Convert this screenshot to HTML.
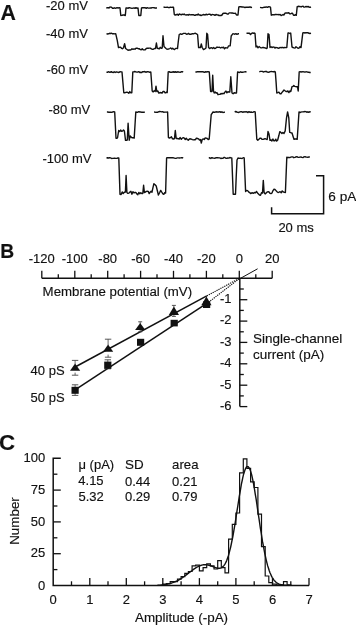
<!DOCTYPE html>
<html><head><meta charset="utf-8"><style>
html,body{margin:0;padding:0;background:#fff;}
body{width:356px;height:626px;overflow:hidden;}
svg{display:block;}
svg text{font-family:'Liberation Sans', Arial, Helvetica, sans-serif;fill:#111;stroke:#111;stroke-width:0.15px;}
</style></head><body>
<svg width="356" height="626" viewBox="0 0 356 626">
<rect width="356" height="626" fill="#fff"/>
<polyline points="106.3,8.0 107.2,7.8 108.1,7.7 109.0,8.0 110.0,7.0 110.8,7.1 111.5,7.2 112.5,8.2 113.4,8.3 114.4,7.8 115.3,8.2 116.2,8.0 117.2,7.7 118.1,8.1 119.1,7.6 120.0,8.0 120.8,15.5 121.9,15.4 123.0,15.0 124.2,15.0 125.3,15.5 126.0,8.0 127.0,7.9 128.0,8.3 129.0,7.7 130.0,7.8 131.0,8.1 132.0,8.4 133.0,8.1 134.0,7.9 135.0,8.4 136.0,7.6 137.0,8.3 138.0,8.0 138.8,15.5 139.8,15.5 140.8,15.5 141.5,8.0 142.5,7.8 143.4,7.7 144.4,7.7 145.4,7.8 146.3,8.3 147.3,7.7 148.3,8.1 149.2,8.1 150.2,7.9 151.2,8.0 152.2,7.6 153.1,7.6 154.1,7.7 155.1,8.2 156.0,7.9 157.0,8.0" fill="none" stroke="#111" stroke-width="1.4" stroke-linejoin="round"/>
<polyline points="163.5,7.3 164.5,7.1 165.5,7.4 166.5,7.3 167.5,7.1 168.5,7.6 169.5,7.5 170.5,7.1 171.5,7.4 172.5,7.3 173.5,7.3 174.3,14.5 175.3,15.0 176.3,14.8 177.3,14.2 178.3,15.2 179.3,14.0 180.3,14.4 181.3,14.9 182.2,14.1 183.2,14.6 184.2,14.0 185.2,14.9 186.2,15.0 187.2,14.7 188.2,15.2 189.2,14.4 190.2,14.9 191.2,14.8 192.2,14.8 193.2,14.6 194.2,15.2 195.2,15.3 196.2,14.7 197.2,15.0 198.2,14.1 199.1,15.0 200.1,15.0 201.1,15.5 202.1,15.2 203.1,14.5 204.1,14.7 205.1,15.1 206.1,14.2 207.1,14.8 208.1,14.4 209.1,14.3 210.1,14.3 211.1,15.3 212.1,14.4 213.1,14.6 214.1,14.8 215.0,15.4 216.0,14.4 217.0,14.9 218.0,15.0 219.0,15.5 220.0,15.4 221.0,15.5 222.0,15.0 223.0,13.5 224.0,13.2 225.1,13.3 226.1,13.3 227.2,14.0 228.2,14.1 229.2,12.9 230.3,12.9 231.3,13.0 232.4,13.0 233.4,13.3 234.5,13.4 235.5,13.3 236.5,15.0 237.2,15.0 238.0,15.0 238.8,7.0 239.8,6.8 240.8,6.6 241.8,7.0 242.9,6.9 243.9,7.1 244.9,7.5 245.9,7.3 246.9,7.1 247.9,7.2 249.0,7.3 250.0,6.8 251.0,7.5 252.0,7.2" fill="none" stroke="#111" stroke-width="1.4" stroke-linejoin="round"/>
<polyline points="260.0,7.4 261.1,7.6 262.1,7.7 263.1,7.6 264.2,7.2 265.2,7.2 266.3,6.9 267.4,7.4 268.4,6.8 269.4,6.8 270.5,7.2 271.3,15.2 272.3,14.8 273.3,14.7 274.2,14.9 275.2,14.5 276.2,14.4 277.2,14.6 278.1,14.5 279.1,14.9 280.1,14.4 281.1,15.6 282.0,15.2 283.0,14.5 284.0,15.0 285.0,13.2 285.9,12.9 286.9,13.0 287.8,13.0 288.8,12.7 289.7,13.7 290.6,13.9 291.6,13.2 292.5,13.2 293.5,15.3 294.4,15.3 295.4,14.7 296.3,15.3 297.2,6.6 298.2,6.3 299.2,6.5 300.2,6.5 301.1,7.0 302.1,6.4 303.1,6.3 304.1,7.2 305.1,6.9 306.1,6.5 307.1,6.9 308.0,6.5 309.0,7.0 310.0,7.4 311.0,7.0" fill="none" stroke="#111" stroke-width="1.4" stroke-linejoin="round"/>
<polyline points="106.5,33.6 107.5,34.0 108.5,33.8 109.6,33.3 110.6,33.5 111.6,33.2 112.6,33.9 113.7,33.6 114.7,33.9 115.7,33.6 116.5,37.2 117.3,40.7 118.5,47.6 119.5,47.3 120.5,47.1 121.5,48.3 122.5,48.7 123.5,47.8 124.6,43.7 125.6,48.5 127.0,49.5 128.0,50.2 129.0,50.0 130.0,50.0 131.0,49.8 132.0,48.8 133.0,49.3 134.0,48.9 135.0,49.2 136.0,48.2 137.1,48.2 138.1,48.7 139.1,48.6 140.1,49.4 141.2,49.9 142.2,48.8 143.2,49.8 144.2,49.9 145.2,49.8 146.3,48.5 147.3,48.2 148.3,48.2 149.3,48.1 150.4,48.1 151.4,48.9 152.4,49.4 153.4,49.3 154.5,48.5 155.5,48.5 156.4,43.0 157.3,48.3 158.3,48.5 159.3,48.8 160.2,47.3 161.2,48.4 162.2,48.0 163.0,35.8 164.0,46.5 165.0,47.5 166.0,48.5 167.0,49.3 167.9,49.1 168.9,49.0 169.8,48.5 170.8,47.9 171.8,49.1 172.7,48.2 173.7,49.2 174.6,49.5 175.6,48.4 176.5,48.4 177.5,48.6 178.3,41.5 179.2,34.5 180.5,33.8 181.5,34.3 182.5,34.0 183.5,33.4 184.5,33.4 185.5,33.4 186.5,34.2 187.5,34.1 188.5,33.4 189.5,34.2 190.5,34.3 191.5,34.0 192.5,33.6 193.5,33.9 194.5,33.4 195.5,33.3 196.5,33.8 197.6,34.8 198.6,47.6 199.6,47.5 200.5,47.5 201.3,44.0 202.2,47.5 203.5,49.6 204.8,48.8 206.0,48.0 206.8,33.3 207.6,34.5 208.6,47.6 209.6,48.6 210.6,47.9 211.6,47.7 212.6,48.6 213.6,47.6 214.6,48.5 215.6,48.4 216.6,47.2 217.6,47.3 218.5,47.4 219.5,47.3 220.5,48.0 221.5,47.4 222.5,47.7 223.5,47.2 224.5,48.8 225.5,47.7 226.5,47.9 227.5,48.0 228.5,46.0 229.3,45.9 230.2,45.7 231.2,36.0 232.0,34.9 232.8,33.8 233.8,33.9 234.9,34.2 235.9,33.7 236.9,34.3 238.0,33.8 239.0,33.8" fill="none" stroke="#111" stroke-width="1.4" stroke-linejoin="round"/>
<polyline points="246.5,33.3 247.5,33.3 248.5,33.3 249.5,33.3 250.5,34.6 251.5,33.5 252.4,32.9 253.2,33.3 254.1,33.0 255.0,33.3 256.0,47.0 257.0,46.1 258.0,47.8 259.1,46.6 260.1,47.3 261.1,47.9 262.1,47.7 263.1,47.3 264.1,47.8 265.2,47.9 266.2,48.5 267.2,48.0 268.0,33.8 269.0,34.5 270.0,47.5 271.0,46.7 272.0,47.6 273.0,47.0 274.0,47.1 274.9,48.0 275.9,47.5 276.9,47.6 277.9,48.0 278.9,48.3 279.9,47.4 280.9,47.7 281.9,47.5 282.8,47.5 283.8,47.9 284.8,47.4 285.8,47.6 286.8,47.5 288.0,33.0 288.9,33.0 289.8,33.5 290.7,33.0 292.0,47.0 293.0,47.5 294.0,47.9 295.0,48.1 296.0,46.8 297.0,47.5 298.0,48.3 299.0,48.1 300.0,46.8 301.0,47.6 301.9,40.3 302.8,33.0 303.8,32.6 304.9,33.0 305.9,32.6 306.9,32.8 307.9,32.7 308.9,33.3 310.0,33.5 311.0,33.2" fill="none" stroke="#111" stroke-width="1.4" stroke-linejoin="round"/>
<polyline points="106.5,72.0 107.5,72.4 108.4,71.7 109.4,72.2 110.4,72.2 111.3,71.6 112.3,72.4 113.3,72.5 114.2,71.7 115.2,72.5 116.2,71.9 117.2,72.0 118.1,72.5 119.1,72.3 120.1,71.7 121.0,71.9 122.0,72.0 122.9,82.4 123.8,92.8 124.8,92.8 125.8,92.4 126.8,92.1 127.8,92.4 128.8,93.3 129.8,91.6 130.8,92.9 131.8,92.8 132.8,72.0 133.8,71.9 134.8,71.5 135.8,71.8 136.8,72.1 137.8,72.0 138.8,71.6 139.8,72.5 140.8,72.3 141.8,72.5 142.8,71.6 143.8,71.8 144.8,71.5 145.8,72.3 146.8,71.8 147.8,71.6 148.8,71.9 149.8,72.4 150.8,72.0 152.2,91.0 153.2,91.9 154.2,90.8 155.2,91.5 156.0,86.2 156.8,91.5 157.9,91.0 158.9,93.2 160.0,92.5 161.0,92.7 162.1,93.0 163.1,91.5 164.1,91.4 165.1,93.0 166.2,92.3 167.2,92.5 168.2,72.0 169.2,71.6 170.2,72.4 171.2,72.1 172.2,72.3 173.2,71.6 174.2,72.4 175.2,71.6 176.2,72.4 177.2,72.0 178.2,71.8 179.2,72.1 180.2,72.4 181.2,71.8 182.2,71.6 183.2,72.0" fill="none" stroke="#111" stroke-width="1.4" stroke-linejoin="round"/>
<polyline points="195.4,72.0 196.4,72.0 197.4,71.7 198.4,71.6 199.4,71.7 200.4,71.6 201.4,71.7 202.4,71.8 203.3,71.8 204.3,72.3 205.3,71.8 206.3,72.0 207.3,71.7 208.3,71.8 209.3,72.0 210.6,91.5 212.0,91.5 212.7,75.3 213.5,91.0 214.2,93.0 215.2,92.1 216.1,93.0 217.1,92.7 218.0,94.7 219.0,94.4 220.0,94.4 221.0,93.4 222.0,94.0 223.0,93.3 224.0,93.7 225.0,92.0 226.0,91.1 226.9,92.8 227.9,91.8 228.8,92.0 229.8,92.0 230.8,76.7 232.0,93.0 233.1,93.8 234.2,92.7 235.4,93.0 236.5,93.0 237.6,72.0 238.6,72.2 239.6,72.5 240.6,71.8 241.6,72.3 242.5,72.2 243.5,72.1 244.5,71.9 245.5,71.8 246.5,72.0" fill="none" stroke="#111" stroke-width="1.4" stroke-linejoin="round"/>
<polyline points="259.3,71.8 260.3,71.4 261.3,71.4 262.3,71.4 263.3,72.0 264.3,71.6 265.3,71.5 266.3,71.4 267.3,72.1 268.3,72.2 269.3,72.0 270.3,71.6 271.3,71.5 272.3,71.6 273.3,71.8 274.3,71.5 275.3,71.8 276.1,82.4 276.8,93.0 277.8,92.7 278.9,92.2 279.9,93.7 281.0,93.7 282.0,92.4 283.0,91.2 284.0,90.0 285.0,90.8 286.0,91.5 287.0,91.6 287.9,90.9 288.9,92.6 289.8,91.0 290.8,91.5 292.0,86.7 292.9,86.4 293.8,85.5 294.8,86.4 295.7,86.6 296.6,86.7 297.5,86.7 298.2,91.0 299.2,72.0 300.2,71.7 301.1,72.1 302.1,71.6 303.0,71.9 304.0,71.8 304.9,72.1 305.9,71.8 306.9,71.9 307.8,72.2 308.8,72.1 309.7,72.5 310.7,72.5" fill="none" stroke="#111" stroke-width="1.4" stroke-linejoin="round"/>
<polyline points="106.9,112.0 107.9,112.0 108.9,112.3 109.8,112.2 110.8,112.2 111.8,112.4 112.8,111.9 113.7,111.8 114.7,112.0 116.0,138.3 116.8,138.2 117.5,138.0 118.7,130.5 119.7,131.6 120.6,130.0 121.6,131.2 122.5,131.1 123.5,130.0 124.4,131.0 125.5,140.3 126.4,140.2 127.3,140.0 128.1,123.2 129.2,140.2 130.2,136.0 131.2,137.2 132.2,137.8 133.2,137.8 134.2,138.0 135.0,125.0 135.8,112.0 136.8,112.2 137.8,112.3 138.8,111.6 139.8,112.0 140.8,112.0 141.8,112.3 142.8,112.3 143.8,112.3 144.8,112.0" fill="none" stroke="#111" stroke-width="1.4" stroke-linejoin="round"/>
<polyline points="154.0,112.0 155.0,112.1 155.9,112.4 156.9,112.2 157.9,112.2 158.9,111.7 159.8,111.5 160.8,111.6 161.8,111.9 162.7,111.6 163.7,112.3 164.7,112.1 165.7,112.1 166.6,112.1 167.6,112.0 168.4,137.4 169.4,138.1 170.4,137.7 171.4,136.7 172.5,138.9 173.5,139.0 174.5,138.5 175.3,130.5 176.2,138.5 177.2,138.5 178.2,138.7 179.2,139.0 180.2,137.5 181.3,139.3 182.3,138.1 183.3,137.7 184.3,138.2 185.3,139.5 186.3,138.2 187.3,139.6 188.3,140.2 189.4,139.0 190.4,138.8 191.4,139.1 192.4,139.6 193.4,139.9 194.4,139.6 195.4,139.7 196.4,138.2 197.5,138.5 198.5,138.8 199.5,140.1 200.5,139.5 201.3,143.0 202.2,139.5 203.2,138.9 204.2,139.5 205.2,138.0 206.2,138.1 207.2,138.5 208.2,139.5 209.2,139.0 210.2,126.8 211.2,114.7 212.1,113.3 213.0,112.0 214.0,112.2 215.0,112.2 216.0,111.8 217.0,112.0 218.0,112.0 218.9,112.0 219.9,111.6 220.9,112.4 221.9,111.7 222.9,112.5 223.9,112.4 224.9,112.0" fill="none" stroke="#111" stroke-width="1.4" stroke-linejoin="round"/>
<polyline points="234.7,112.0 235.7,111.5 236.8,112.0 237.8,112.3 238.8,112.5 239.8,111.9 240.8,111.8 241.9,111.7 242.9,112.4 243.9,111.7 244.9,112.1 246.0,111.6 247.0,112.0 248.0,112.5 249.0,111.6 250.1,112.3 251.1,112.0 252.1,112.4 253.1,112.2 254.2,111.7 255.2,112.0 256.0,125.7 256.8,139.3 257.8,140.3 258.9,139.3 259.9,138.2 261.0,138.2 262.0,139.4 263.0,139.3 264.1,139.0 265.1,138.6 266.2,139.1 267.2,139.5 268.0,131.5 269.0,134.0 270.0,140.3 271.0,139.8 271.9,141.0 272.9,139.0 273.9,140.8 274.8,140.9 275.8,139.2 276.7,141.1 277.7,140.0 278.8,135.8 279.8,131.6 280.9,132.6 281.9,133.5 282.9,132.5 284.0,133.5 285.2,130.9 286.5,118.0 287.6,111.9 288.8,118.0 289.7,132.3 290.9,132.7 292.0,133.0 293.0,136.2 294.0,139.3 295.1,139.0 296.1,139.0 297.2,139.3 298.1,125.7 299.0,112.0 300.0,112.5 300.9,112.1 301.9,111.9 302.9,111.9 303.9,111.8 304.9,111.5 305.8,111.6 306.8,112.3 307.8,111.8 308.8,112.4 309.7,111.7 310.7,112.0" fill="none" stroke="#111" stroke-width="1.4" stroke-linejoin="round"/>
<polyline points="106.5,158.0 107.5,157.8 108.5,158.0 109.6,157.7 110.6,157.9 111.6,158.5 112.7,158.4 113.7,158.3 114.7,158.1 115.7,158.4 116.8,158.4 117.8,158.0 118.8,158.0 120.0,194.2 121.1,194.5 122.2,191.9 123.2,193.6 124.3,192.3 125.4,192.0 126.1,175.5 126.9,192.5 127.9,193.4 128.9,193.1 129.9,192.0 130.9,191.3 131.9,194.2 132.9,191.7 133.9,192.8 134.9,192.5 135.8,192.4 136.8,193.9 137.8,194.7 138.8,192.5 139.8,193.8 140.8,192.7 141.8,193.6 142.8,193.5 143.6,185.3 144.4,192.5 145.3,192.1 146.3,191.4 147.2,191.3 148.2,191.4 149.2,193.6 150.1,192.3 151.1,191.3 152.0,192.2 152.9,187.9 153.9,183.7 155.1,184.8 156.2,186.0 157.3,190.5 158.4,195.0 159.6,192.7 160.7,190.4 162.0,192.5 162.9,193.9 163.8,194.3 164.7,192.7 165.6,193.0 166.6,158.0 167.6,157.6 168.6,157.7 169.5,157.6 170.5,157.8 171.5,157.6 172.5,157.7 173.4,157.8 174.4,158.1 175.4,158.4 176.4,158.2 177.3,157.9 178.3,157.9 179.3,158.0 180.3,157.9 181.2,157.8 182.2,157.6 183.2,158.0" fill="none" stroke="#111" stroke-width="1.4" stroke-linejoin="round"/>
<polyline points="208.8,158.0 209.8,157.8 210.8,158.5 211.8,157.6 212.8,158.0 213.8,158.1 214.8,158.4 215.8,157.7 216.8,157.8 217.8,157.7 218.8,157.9 219.8,157.9 220.8,158.5 221.8,158.3 222.8,158.4 223.8,157.5 224.8,157.5 225.8,158.2 226.8,158.4 227.8,158.0 228.8,158.1 229.8,157.5 230.8,157.9 231.8,158.0 233.2,194.2 234.3,194.2 235.5,194.2 236.2,177.1 237.0,160.0 238.0,158.0 239.0,158.4 240.1,158.3 241.1,158.4 242.1,158.5 243.2,157.7 244.2,158.0 245.6,191.5 246.6,190.4 247.6,190.6 248.6,191.9 249.6,192.6 250.6,193.5 251.6,193.0 252.5,192.8 253.5,193.3 254.5,192.5 255.5,192.9 256.5,191.4 257.5,193.0 258.5,194.0 259.5,195.0 260.5,195.2 261.5,192.8 262.5,193.0 263.3,180.4 264.1,192.5 265.1,193.9 266.1,193.1 267.1,192.1 268.1,191.6 269.0,192.0 270.0,193.3 271.0,193.6 272.0,193.0 273.0,190.6 274.0,189.3 275.0,189.5 276.0,190.6 277.0,191.8 278.0,192.5 279.1,192.1 280.1,191.6 281.2,192.8 282.2,190.9 283.3,191.9 284.3,192.4 285.4,192.5 286.8,157.2 287.8,157.7 288.8,157.3 289.8,157.6 290.8,157.2 291.8,156.9 292.8,156.9 293.8,157.7 294.8,157.4 295.8,157.0 296.8,156.7 297.8,157.2 298.9,157.4 299.9,157.1 300.9,157.0 301.9,157.4 302.9,157.6 303.9,156.9 304.9,156.7 305.9,157.0 306.9,157.1 307.9,157.4 308.9,156.9 309.9,157.2" fill="none" stroke="#111" stroke-width="1.4" stroke-linejoin="round"/>
<polyline points="316,175.7 323.6,175.7 323.6,213.7 271.6,213.7 271.6,207.2" fill="none" stroke="#111" stroke-width="1.5"/>
<text x="0.6" y="20.0" font-size="21.3" text-anchor="start" font-weight="bold" >A</text>
<text x="46.0" y="9.6" font-size="13" text-anchor="start" font-weight="normal" >-20 mV</text>
<text x="46.0" y="37.9" font-size="13" text-anchor="start" font-weight="normal" >-40 mV</text>
<text x="46.4" y="74.2" font-size="13" text-anchor="start" font-weight="normal" >-60 mV</text>
<text x="48.4" y="113.7" font-size="13" text-anchor="start" font-weight="normal" >-80 mV</text>
<text x="42.4" y="162.7" font-size="13" text-anchor="start" font-weight="normal" >-100 mV</text>
<text x="328.3" y="200.9" font-size="13.6" text-anchor="start" font-weight="normal" >6 pA</text>
<text x="278.4" y="232.0" font-size="13" text-anchor="start" font-weight="normal" >20 ms</text>
<text x="0" y="0" font-size="21" font-weight="bold" transform="translate(0.2 258.3) scale(0.92 1)">B</text>
<line x1="41.8" y1="278.3" x2="272.2" y2="278.3" stroke="#111" stroke-width="1.4"/>
<line x1="41.8" y1="278.3" x2="41.8" y2="270.8" stroke="#111" stroke-width="1.3"/>
<text x="41.8" y="262.9" font-size="13" text-anchor="middle" font-weight="normal" >-120</text>
<line x1="58.3" y1="278.3" x2="58.3" y2="274.3" stroke="#111" stroke-width="1.3"/>
<line x1="74.8" y1="278.3" x2="74.8" y2="270.8" stroke="#111" stroke-width="1.3"/>
<text x="74.8" y="262.9" font-size="13" text-anchor="middle" font-weight="normal" >-100</text>
<line x1="91.2" y1="278.3" x2="91.2" y2="274.3" stroke="#111" stroke-width="1.3"/>
<line x1="107.7" y1="278.3" x2="107.7" y2="270.8" stroke="#111" stroke-width="1.3"/>
<text x="107.7" y="262.9" font-size="13" text-anchor="middle" font-weight="normal" >-80</text>
<line x1="124.1" y1="278.3" x2="124.1" y2="274.3" stroke="#111" stroke-width="1.3"/>
<line x1="140.6" y1="278.3" x2="140.6" y2="270.8" stroke="#111" stroke-width="1.3"/>
<text x="140.6" y="262.9" font-size="13" text-anchor="middle" font-weight="normal" >-60</text>
<line x1="157.0" y1="278.3" x2="157.0" y2="274.3" stroke="#111" stroke-width="1.3"/>
<line x1="173.5" y1="278.3" x2="173.5" y2="270.8" stroke="#111" stroke-width="1.3"/>
<text x="173.5" y="262.9" font-size="13" text-anchor="middle" font-weight="normal" >-40</text>
<line x1="189.9" y1="278.3" x2="189.9" y2="274.3" stroke="#111" stroke-width="1.3"/>
<line x1="206.4" y1="278.3" x2="206.4" y2="270.8" stroke="#111" stroke-width="1.3"/>
<text x="206.4" y="262.9" font-size="13" text-anchor="middle" font-weight="normal" >-20</text>
<line x1="222.8" y1="278.3" x2="222.8" y2="274.3" stroke="#111" stroke-width="1.3"/>
<line x1="239.3" y1="278.3" x2="239.3" y2="270.8" stroke="#111" stroke-width="1.3"/>
<text x="239.3" y="262.9" font-size="13" text-anchor="middle" font-weight="normal" >0</text>
<line x1="255.8" y1="278.3" x2="255.8" y2="274.3" stroke="#111" stroke-width="1.3"/>
<line x1="272.2" y1="278.3" x2="272.2" y2="270.8" stroke="#111" stroke-width="1.3"/>
<text x="272.2" y="262.9" font-size="13" text-anchor="middle" font-weight="normal" >20</text>
<text x="42.6" y="296.2" font-size="13.25" text-anchor="start" font-weight="normal" >Membrane potential (mV)</text>
<line x1="239.8" y1="278.3" x2="239.8" y2="406.6" stroke="#111" stroke-width="1.5"/>
<line x1="239.8" y1="289.0" x2="243.8" y2="289.0" stroke="#111" stroke-width="1.3"/>
<line x1="239.8" y1="299.7" x2="247.3" y2="299.7" stroke="#111" stroke-width="1.3"/>
<text x="231.5" y="303.0" font-size="13" text-anchor="end" font-weight="normal" >-1</text>
<line x1="239.8" y1="310.4" x2="243.8" y2="310.4" stroke="#111" stroke-width="1.3"/>
<line x1="239.8" y1="321.1" x2="247.3" y2="321.1" stroke="#111" stroke-width="1.3"/>
<text x="231.5" y="324.4" font-size="13" text-anchor="end" font-weight="normal" >-2</text>
<line x1="239.8" y1="331.8" x2="243.8" y2="331.8" stroke="#111" stroke-width="1.3"/>
<line x1="239.8" y1="342.4" x2="247.3" y2="342.4" stroke="#111" stroke-width="1.3"/>
<text x="231.5" y="345.7" font-size="13" text-anchor="end" font-weight="normal" >-3</text>
<line x1="239.8" y1="353.1" x2="243.8" y2="353.1" stroke="#111" stroke-width="1.3"/>
<line x1="239.8" y1="363.8" x2="247.3" y2="363.8" stroke="#111" stroke-width="1.3"/>
<text x="231.5" y="367.1" font-size="13" text-anchor="end" font-weight="normal" >-4</text>
<line x1="239.8" y1="374.5" x2="243.8" y2="374.5" stroke="#111" stroke-width="1.3"/>
<line x1="239.8" y1="385.2" x2="247.3" y2="385.2" stroke="#111" stroke-width="1.3"/>
<text x="231.5" y="388.5" font-size="13" text-anchor="end" font-weight="normal" >-5</text>
<line x1="239.8" y1="395.9" x2="243.8" y2="395.9" stroke="#111" stroke-width="1.3"/>
<line x1="239.8" y1="406.6" x2="247.3" y2="406.6" stroke="#111" stroke-width="1.3"/>
<text x="231.5" y="409.9" font-size="13" text-anchor="end" font-weight="normal" >-6</text>
<text x="253.0" y="343.4" font-size="13.5" text-anchor="start" font-weight="normal" >Single-channel</text>
<text x="253.0" y="359.0" font-size="13.5" text-anchor="start" font-weight="normal" >current (pA)</text>
<text x="30.6" y="374.6" font-size="13" text-anchor="start" font-weight="normal" >40 pS</text>
<text x="30.6" y="402.0" font-size="13" text-anchor="start" font-weight="normal" >50 pS</text>
<line x1="75.1" y1="367.0" x2="206.8" y2="295.9" stroke="#111" stroke-width="1.5"/>
<line x1="75.1" y1="389.9" x2="206.8" y2="303.4" stroke="#111" stroke-width="1.5"/>
<line x1="206.8" y1="295.9" x2="239.3" y2="278.4" stroke="#111" stroke-width="1.1" stroke-dasharray="1.3,0.9"/>
<line x1="208.5" y1="302.3" x2="239.3" y2="278.6" stroke="#111" stroke-width="1.1" stroke-dasharray="1.3,0.9"/>
<line x1="239.3" y1="279.0" x2="257.6" y2="268.8" stroke="#111" stroke-width="1.0"/>
<line x1="75.1" y1="360.4" x2="75.1" y2="364.4" stroke="#444" stroke-width="0.8"/>
<line x1="75.1" y1="372.59999999999997" x2="75.1" y2="375.2" stroke="#444" stroke-width="0.8"/>
<line x1="71.89999999999999" y1="360.4" x2="78.3" y2="360.4" stroke="#444" stroke-width="0.9"/>
<line x1="71.89999999999999" y1="375.2" x2="78.3" y2="375.2" stroke="#444" stroke-width="0.9"/>
<polygon points="75.1,363.4 70.0,370.8 80.2,370.8" fill="#111"/>
<line x1="108.1" y1="339.2" x2="108.1" y2="345.4" stroke="#444" stroke-width="0.8"/>
<line x1="108.1" y1="354.59999999999997" x2="108.1" y2="357.2" stroke="#444" stroke-width="0.8"/>
<line x1="104.89999999999999" y1="339.2" x2="111.3" y2="339.2" stroke="#444" stroke-width="0.9"/>
<line x1="104.89999999999999" y1="357.2" x2="111.3" y2="357.2" stroke="#444" stroke-width="0.9"/>
<polygon points="108.1,344.4 103.0,351.8 113.2,351.8" fill="#111"/>
<line x1="140.2" y1="321.8" x2="140.2" y2="324.0" stroke="#444" stroke-width="0.8"/>
<line x1="140.2" y1="329.2" x2="140.2" y2="331.8" stroke="#444" stroke-width="0.8"/>
<line x1="138.2" y1="321.8" x2="142.2" y2="321.8" stroke="#444" stroke-width="0.9"/>
<line x1="138.2" y1="331.8" x2="142.2" y2="331.8" stroke="#444" stroke-width="0.9"/>
<polygon points="140.2,323.0 135.1,330.0 145.3,330.0" fill="#111"/>
<line x1="173.9" y1="305.4" x2="173.9" y2="307.6" stroke="#444" stroke-width="0.8"/>
<line x1="173.9" y1="313.79999999999995" x2="173.9" y2="316.4" stroke="#444" stroke-width="0.8"/>
<line x1="171.9" y1="305.4" x2="175.9" y2="305.4" stroke="#444" stroke-width="0.9"/>
<line x1="171.9" y1="316.4" x2="175.9" y2="316.4" stroke="#444" stroke-width="0.9"/>
<polygon points="173.9,306.6 168.8,315.0 179.0,315.0" fill="#111"/>
<polygon points="206.4,296.6 201.3,305.2 211.5,305.2" fill="#111"/>
<line x1="75.1" y1="384.8" x2="75.1" y2="387.3" stroke="#444" stroke-width="0.8"/>
<line x1="75.1" y1="392.79999999999995" x2="75.1" y2="395.4" stroke="#444" stroke-width="0.8"/>
<line x1="71.89999999999999" y1="384.8" x2="78.3" y2="384.8" stroke="#444" stroke-width="0.9"/>
<line x1="71.89999999999999" y1="395.4" x2="78.3" y2="395.4" stroke="#444" stroke-width="0.9"/>
<rect x="71.5" y="386.8" width="7.2" height="7.0" fill="#111"/>
<line x1="107.8" y1="359.8" x2="107.8" y2="362.1" stroke="#444" stroke-width="0.8"/>
<line x1="107.8" y1="366.2" x2="107.8" y2="368.8" stroke="#444" stroke-width="0.8"/>
<line x1="104.6" y1="359.8" x2="111.0" y2="359.8" stroke="#444" stroke-width="0.9"/>
<line x1="104.6" y1="368.8" x2="111.0" y2="368.8" stroke="#444" stroke-width="0.9"/>
<rect x="104.2" y="361.6" width="7.2" height="7.2" fill="#111"/>
<rect x="137.0" y="338.8" width="7.2" height="7.0" fill="#111"/>
<rect x="170.6" y="319.8" width="7.2" height="6.6" fill="#111"/>
<rect x="203.0" y="301.4" width="7.2" height="6.6" fill="#111"/>
<text x="-0.9" y="449.7" font-size="22.3" text-anchor="start" font-weight="bold" >C</text>
<polyline points="60.800000000000004,458.2 53.2,458.2 53.2,585.5 309.0,585.5" fill="none" stroke="#111" stroke-width="1.5"/>
<text x="45.2" y="589.8" font-size="13" text-anchor="end" font-weight="normal" >0</text>
<line x1="53.2" y1="569.6" x2="57.400000000000006" y2="569.6" stroke="#111" stroke-width="1.3"/>
<line x1="53.2" y1="553.7" x2="60.800000000000004" y2="553.7" stroke="#111" stroke-width="1.3"/>
<text x="45.2" y="557.3" font-size="13" text-anchor="end" font-weight="normal" >25</text>
<line x1="53.2" y1="537.8" x2="57.400000000000006" y2="537.8" stroke="#111" stroke-width="1.3"/>
<line x1="53.2" y1="521.9" x2="60.800000000000004" y2="521.9" stroke="#111" stroke-width="1.3"/>
<text x="45.2" y="525.5" font-size="13" text-anchor="end" font-weight="normal" >50</text>
<line x1="53.2" y1="506.0" x2="57.400000000000006" y2="506.0" stroke="#111" stroke-width="1.3"/>
<line x1="53.2" y1="490.1" x2="60.800000000000004" y2="490.1" stroke="#111" stroke-width="1.3"/>
<text x="45.2" y="493.7" font-size="13" text-anchor="end" font-weight="normal" >75</text>
<line x1="53.2" y1="474.2" x2="57.400000000000006" y2="474.2" stroke="#111" stroke-width="1.3"/>
<text x="45.2" y="461.9" font-size="13" text-anchor="end" font-weight="normal" >100</text>
<line x1="71.5" y1="585.5" x2="71.5" y2="581.3" stroke="#111" stroke-width="1.3"/>
<line x1="89.8" y1="585.5" x2="89.8" y2="578.1" stroke="#111" stroke-width="1.3"/>
<line x1="108.0" y1="585.5" x2="108.0" y2="581.3" stroke="#111" stroke-width="1.3"/>
<line x1="126.3" y1="585.5" x2="126.3" y2="578.1" stroke="#111" stroke-width="1.3"/>
<line x1="144.6" y1="585.5" x2="144.6" y2="581.3" stroke="#111" stroke-width="1.3"/>
<line x1="162.8" y1="585.5" x2="162.8" y2="578.1" stroke="#111" stroke-width="1.3"/>
<line x1="181.1" y1="585.5" x2="181.1" y2="581.3" stroke="#111" stroke-width="1.3"/>
<line x1="199.4" y1="585.5" x2="199.4" y2="578.1" stroke="#111" stroke-width="1.3"/>
<line x1="217.7" y1="585.5" x2="217.7" y2="581.3" stroke="#111" stroke-width="1.3"/>
<line x1="235.9" y1="585.5" x2="235.9" y2="578.1" stroke="#111" stroke-width="1.3"/>
<line x1="254.2" y1="585.5" x2="254.2" y2="581.3" stroke="#111" stroke-width="1.3"/>
<line x1="272.5" y1="585.5" x2="272.5" y2="578.1" stroke="#111" stroke-width="1.3"/>
<line x1="290.8" y1="585.5" x2="290.8" y2="581.3" stroke="#111" stroke-width="1.3"/>
<line x1="309.0" y1="585.5" x2="309.0" y2="578.1" stroke="#111" stroke-width="1.3"/>
<text x="53.2" y="604.2" font-size="13" text-anchor="middle" font-weight="normal" >0</text>
<text x="89.8" y="604.2" font-size="13" text-anchor="middle" font-weight="normal" >1</text>
<text x="126.3" y="604.2" font-size="13" text-anchor="middle" font-weight="normal" >2</text>
<text x="162.8" y="604.2" font-size="13" text-anchor="middle" font-weight="normal" >3</text>
<text x="199.4" y="604.2" font-size="13" text-anchor="middle" font-weight="normal" >4</text>
<text x="235.9" y="604.2" font-size="13" text-anchor="middle" font-weight="normal" >5</text>
<text x="272.5" y="604.2" font-size="13" text-anchor="middle" font-weight="normal" >6</text>
<text x="309.0" y="604.2" font-size="13" text-anchor="middle" font-weight="normal" >7</text>
<text x="135.0" y="622.0" font-size="13.4" text-anchor="start" font-weight="normal" >Amplitude (-pA)</text>
<text x="19.1" y="521" font-size="13.4" text-anchor="middle" transform="rotate(-90 19.1 521)">Number</text>
<text x="78.5" y="469.4" font-size="13" text-anchor="start" font-weight="normal" >&#956; (pA)</text>
<text x="125.0" y="469.3" font-size="13.4" text-anchor="start" font-weight="normal" >SD</text>
<text x="172.1" y="469.3" font-size="13.2" text-anchor="start" font-weight="normal" >area</text>
<text x="78.3" y="485.4" font-size="13" text-anchor="start" font-weight="normal" >4.15</text>
<text x="125.0" y="485.5" font-size="13" text-anchor="start" font-weight="normal" >0.44</text>
<text x="172.1" y="485.5" font-size="13" text-anchor="start" font-weight="normal" >0.21</text>
<text x="78.5" y="501.0" font-size="13" text-anchor="start" font-weight="normal" >5.32</text>
<text x="125.0" y="501.0" font-size="13" text-anchor="start" font-weight="normal" >0.29</text>
<text x="172.1" y="501.0" font-size="13" text-anchor="start" font-weight="normal" >0.79</text>
<path d="M162.8,585.5 V584.2 H166.5 V583.6 H170.2 V581.7 H173.8 V581.7 H177.5 V579.1 H181.1 V576.6 H184.8 V573.4 H188.4 V571.5 H192.1 V565.8 H195.7 V565.1 H199.4 V570.9 H203.1 V567.7 H206.7 V563.9 H210.4 V565.8 H214.0 V569.0 H217.7 V560.7 H221.3 V567.7 H225.0 V572.8 H228.6 V539.1 H232.3 V524.4 H235.9 V513.0 H239.6 V472.9 H243.3 V458.9 H246.9 V468.4 H250.6 V481.8 H254.2 V487.5 H257.9 V514.2 H261.5 V546.7 H265.2 V576.0 H268.8 V582.7 H272.5 V584.2 H276.2 V584.9 H279.8 V584.9 H283.5 V581.7 H287.1 V584.9 H290.8 V585.5" fill="none" stroke="#111" stroke-width="1.2"/>
<polyline points="157.4,585.2 158.1,585.2 158.8,585.2 159.6,585.1 160.3,585.1 161.0,585.0 161.8,584.9 162.5,584.9 163.2,584.8 163.9,584.7 164.7,584.6 165.4,584.5 166.1,584.4 166.9,584.2 167.6,584.1 168.3,583.9 169.1,583.8 169.8,583.6 170.5,583.4 171.3,583.2 172.0,582.9 172.7,582.7 173.4,582.4 174.2,582.1 174.9,581.8 175.6,581.5 176.4,581.2 177.1,580.8 177.8,580.5 178.6,580.1 179.3,579.6 180.0,579.2 180.8,578.8 181.5,578.3 182.2,577.8 183.0,577.3 183.7,576.8 184.4,576.3 185.1,575.7 185.9,575.2 186.6,574.6 187.3,574.1 188.1,573.5 188.8,572.9 189.5,572.3 190.3,571.8 191.0,571.2 191.7,570.7 192.5,570.1 193.2,569.6 193.9,569.1 194.6,568.6 195.4,568.1 196.1,567.6 196.8,567.2 197.6,566.8 198.3,566.4 199.0,566.1 199.8,565.8 200.5,565.5 201.2,565.3 202.0,565.1 202.7,564.9 203.4,564.8 204.2,564.8 204.9,564.7 205.6,564.7 206.3,564.8 207.1,564.9 207.8,565.0 208.5,565.2 209.3,565.3 210.0,565.6 210.7,565.8 211.5,566.1 212.2,566.4 212.9,566.6 213.7,566.9 214.4,567.2 215.1,567.5 215.8,567.7 216.6,568.0 217.3,568.1 218.0,568.3 218.8,568.3 219.5,568.3 220.2,568.2 221.0,567.9 221.7,567.6 222.4,567.1 223.2,566.4 223.9,565.6 224.6,564.6 225.4,563.3 226.1,561.9 226.8,560.2 227.5,558.2 228.3,556.0 229.0,553.5 229.7,550.8 230.5,547.8 231.2,544.5 231.9,541.0 232.7,537.3 233.4,533.3 234.1,529.1 234.9,524.7 235.6,520.2 236.3,515.6 237.0,510.9 237.8,506.2 238.5,501.5 239.2,496.9 240.0,492.5 240.7,488.3 241.4,484.2 242.2,480.5 242.9,477.2 243.6,474.2 244.4,471.7 245.1,469.6 245.8,468.1 246.5,467.0 247.3,466.6 248.0,466.6 248.7,467.3 249.5,468.4 250.2,470.1 250.9,472.3 251.7,475.0 252.4,478.2 253.1,481.7 253.9,485.6 254.6,489.8 255.3,494.3 256.1,498.9 256.8,503.7 257.5,508.7 258.2,513.6 259.0,518.6 259.7,523.5 260.4,528.3 261.2,533.0 261.9,537.5 262.6,541.9 263.4,546.0 264.1,550.0 264.8,553.6 265.6,557.1 266.3,560.3 267.0,563.2 267.7,565.9 268.5,568.3 269.2,570.5 269.9,572.5 270.7,574.3 271.4,575.9 272.1,577.3 272.9,578.5 273.6,579.6 274.3,580.5 275.1,581.3 275.8,582.0 276.5,582.6 277.3,583.1 278.0,583.5 278.7,583.9 279.4,584.2 280.2,584.4 280.9,584.6 281.6,584.8 282.4,584.9 283.1,585.1 283.8,585.2 284.6,585.2 285.3,585.3 286.0,585.3 286.8,585.4 287.5,585.4 288.2,585.4 288.9,585.4" fill="none" stroke="#111" stroke-width="1.4" stroke-linejoin="round"/>
</svg>
</body></html>
